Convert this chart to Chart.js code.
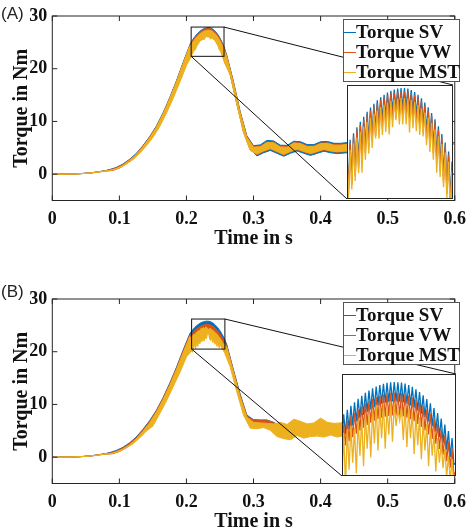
<!DOCTYPE html>
<html><head><meta charset="utf-8">
<script src="https://cdn.jsdelivr.net/npm/chart.js@4.4.1/dist/chart.umd.min.js"></script>
<style>
html,body{margin:0;padding:0;background:#fff;overflow:hidden}
body{width:474px;height:529px;position:relative}
.panel{position:absolute;left:0;width:474px;height:262px}
.tag{position:absolute;left:1px;font:17px "Liberation Sans",Arial,sans-serif;color:#222;line-height:17px}
.inset{position:absolute;border:1px solid #262626;background:#fff;box-sizing:border-box}
.inset canvas{display:block}
.legend{position:absolute;border:1px solid #555;background:#fff;box-sizing:border-box;font:bold 19px "Liberation Serif","Times New Roman",serif;color:#111}
.legend .row{position:absolute;left:0;height:20px;line-height:20px;white-space:nowrap}
.legend .sw{position:absolute;left:0;top:10px;width:12px;height:1px}
.legend .tx{position:absolute;left:12px;top:0}
#err{position:absolute;left:0;top:0;color:red;font:12px sans-serif}
</style></head>
<body>
<div id="panelA" class="panel" style="top:0"><canvas id="mainA" width="474" height="262"></canvas></div>
<div id="panelB" class="panel" style="top:283px"><canvas id="mainB" width="474" height="262"></canvas></div>
<div class="tag" style="top:5px">(A)</div>
<div class="tag" style="top:283px">(B)</div>
<div id="err"></div>
<script>
// ---------- data ----------
const seriesNames = ['Torque SV', 'Torque VW', 'Torque MST'];
const seriesColors = ['#0072BD', '#D95319', '#EDB120'];
const xTicks = [0, 0.1, 0.2, 0.3, 0.4, 0.5, 0.6];
const yTicks = [0, 10, 20, 30];
const xRange = [0, 0.6];
const yRange = [-5, 30];
// time grid segments: [start, step, count]; within a segment samples alternate ripple top / ripple dip
const timeSegments = [[0, 0.01, 9], [0.085, 0.005, 25], [0.2064, 0.0008, 64], [0.26, 0.005, 69]];

// (A)
const svA = [0,0,0,0.02,0.08,0.15,0.27,0.45,0.68,
 0.85,0.9,1.25,1.35,1.9,2.1,2.8,3.0,3.9,4.2,5.4,5.7,7.1,7.4,9.1,9.6,11.6,12.2,14.5,15.1,17.7,18.3,21.2,21.7,24.5,
 24.9,22.75,25.24,23.24,25.56,23.7,25.85,24.13,26.13,24.52,26.38,24.87,26.62,25.2,26.83,25.51,27.02,25.78,27.19,26.01,27.34,26.22,27.47,26.39,27.58,26.53,27.66,26.65,27.73,26.73,27.77,26.78,27.8,26.8,27.8,26.79,27.77,26.72,27.7,26.6,27.6,26.43,27.46,26.23,27.29,25.97,27.08,25.67,26.84,25.32,26.56,24.91,26.25,24.46,25.9,23.97,25.52,23.43,25.1,22.83,24.65,22.19,24.16,21.5,
 22.6,19.1,17.6,13.5,11.9,8.2,7.3,4.9,5.4,3.45,5.55,4.05,6.4,4.5,6.3,3.95,5.5,3.4,5.45,3.95,6.25,4.4,6.15,3.95,5.6,3.55,5.6,3.95,6.15,4.35,6.2,4.05,5.85,3.9,5.85,4.0,6.0,4.1,6.05,4.05,5.95,4.0,5.9,4.05,6.0,4.1,6.05,4.05,5.95,4.0,5.95,4.1,6.05,4.1,6.0,4.0,5.95,4.05,6.05,4.1,6.0,4.05,5.95,4.0,6.0,4.1,6.05,4.1,6.0];
const vwA = [0,0,0,0.02,0.08,0.15,0.26,0.44,0.66,
 0.8,0.7,1.18,1.15,1.82,1.9,2.7,2.8,3.8,4.0,5.3,5.5,7.0,7.2,8.98,9.4,11.48,12.0,14.38,14.9,17.56,18.1,21.05,21.5,24.35,
 24.75,22.54,25.09,23.01,25.41,23.44,25.7,23.85,25.98,24.22,26.23,24.56,26.47,24.87,26.68,25.17,26.87,25.42,27.04,25.65,27.19,25.85,27.32,26.01,27.43,26.15,27.51,26.26,27.58,26.33,27.62,26.38,27.65,26.4,27.65,26.39,27.62,26.32,27.55,26.21,27.45,26.05,27.31,25.85,27.14,25.6,26.93,25.31,26.69,24.97,26.41,24.58,26.1,24.15,25.75,23.68,25.37,23.16,24.95,22.58,24.5,21.97,24.01,21.3,
 22.5,19.0,17.5,13.4,11.8,8.0,7.2,4.6,5.2,3.7,5.3,4.3,6.1,4.75,6.05,4.2,5.25,3.65,5.2,4.2,6.0,4.65,5.9,4.2,5.35,3.8,5.35,4.2,5.9,4.6,5.95,4.3,5.6,4.15,5.6,4.25,5.75,4.3,5.8,4.3,5.7,4.25,5.65,4.3,5.75,4.35,5.8,4.3,5.7,4.25,5.7,4.35,5.8,4.35,5.75,4.25,5.7,4.3,5.8,4.35,5.75,4.3,5.7,4.25,5.75,4.35,5.8,4.35,5.75];
const mstA = [0,0,0,0.02,0.07,0.14,0.25,0.42,0.63,
 0.65,0.8,1.05,1.2,1.68,1.9,2.6,2.75,3.7,3.9,5.2,5.35,6.9,6.95,8.88,9.0,11.4,11.5,14.3,14.3,17.5,17.4,21.0,20.6,24.3,
 24.4,22.33,24.74,22.77,25.06,23.19,25.35,23.58,25.63,23.6,25.88,24.25,26.12,24.55,26.33,24.83,26.52,25.3,26.69,25.29,26.84,25.47,26.97,25.62,27.08,25.5,27.16,25.86,27.23,26.2,27.27,25.99,27.3,26.0,27.3,25.99,27.27,25.6,27.2,25.81,27.1,25.66,26.96,25.47,26.79,25.4,26.58,24.96,26.34,24.63,26.06,24.25,25.75,23.6,25.4,23.39,25.02,22.88,24.6,22.33,24.15,21.74,23.66,21.1,
 22.3,18.9,17.3,13.3,11.6,7.9,7.0,4.5,5.1,3.8,5.2,4.4,6.0,4.85,5.95,4.3,5.15,3.75,5.1,4.3,5.9,4.75,5.8,4.3,5.25,3.9,5.25,4.3,5.8,4.7,5.85,4.4,5.5,4.25,5.5,4.35,5.65,4.4,5.6,4.45,5.55,4.4,5.6,4.4,5.65,4.45,5.6,4.4,5.55,4.35,5.6,4.45,5.65,4.4,5.6,4.35,5.55,4.4,5.6,4.45,5.65,4.4,5.55,4.35,5.6,4.45,5.65,4.45,5.6];

// (B)
const svB = [0,0,0,0.02,0.08,0.15,0.27,0.45,0.68,
 0.85,0.9,1.25,1.35,1.85,2.05,2.7,2.95,3.8,4.2,5.25,5.7,6.9,7.4,8.85,9.55,11.25,12.1,14.0,14.9,17.0,17.9,20.3,21.2,23.4,
 23.7,22.54,23.96,22.83,24.21,23.09,24.44,23.33,24.65,23.55,24.84,23.75,25.02,23.93,25.18,24.1,25.32,24.24,25.44,24.36,25.54,24.47,25.63,24.56,25.7,24.62,25.75,24.67,25.78,24.69,25.8,24.7,25.79,24.68,25.77,24.64,25.71,24.56,25.63,24.47,25.52,24.34,25.39,24.18,25.23,24.0,25.04,23.79,24.83,23.55,24.59,23.28,24.32,22.98,24.03,22.67,23.72,22.32,23.37,21.94,23.0,21.53,22.61,21.1,
 21.4,18.3,16.6,13.3,12.0,8.9,8.0,6.4,7.1,6.2,7.05,6.3,7.05,6.1,6.6,5.4,5.9,4.95,5.8,5.15,6.1,5.35,6.1,5.15,5.85,5.0,5.85,5.15,6.05,5.25,6.0,5.1,5.85,5.0,5.85,5.05,5.9,5.05,5.85,5.1,5.9,5.05,5.85,5.0,5.9,5.1,5.95,5.05,5.85,5.0,5.9,5.1,5.95,5.05,5.9,5.0,5.85,5.05,5.9,5.1,5.95,5.05,5.85,5.0,5.9,5.1,5.9,5.05,5.85];
const vwB = [0,0,0,0.02,0.08,0.15,0.26,0.44,0.66,
 0.75,0.65,1.12,1.05,1.72,1.75,2.57,2.65,3.67,3.9,5.12,5.4,6.77,7.1,8.72,9.25,11.12,11.8,13.87,14.6,16.85,17.6,20.15,20.9,23.25,
 23.1,21.93,23.36,22.19,23.61,22.43,23.84,22.65,24.05,22.85,24.24,23.03,24.42,23.2,24.58,23.35,24.72,23.48,24.84,23.59,24.94,23.69,25.03,23.77,25.1,23.83,25.15,23.87,25.18,23.89,25.2,23.9,25.19,23.88,25.17,23.84,25.11,23.77,25.03,23.68,24.92,23.56,24.79,23.41,24.63,23.24,24.44,23.04,24.23,22.81,23.99,22.56,23.72,22.28,23.43,21.98,23.12,21.65,22.77,21.29,22.4,20.91,22.01,20.5,
 21.2,18.0,16.4,13.0,11.8,8.6,7.8,6.2,7.05,5.95,7.0,6.05,7.0,5.85,6.55,5.15,5.85,4.7,5.75,4.9,6.05,5.1,6.05,4.9,5.8,4.75,5.8,4.9,6.0,5.0,5.95,4.85,5.8,4.8,5.8,4.85,5.85,4.85,5.8,4.9,5.85,4.85,5.8,4.8,5.85,4.9,5.9,4.85,5.8,4.8,5.85,4.9,5.9,4.85,5.85,4.8,5.8,4.85,5.85,4.9,5.9,4.85,5.8,4.8,5.85,4.9,5.85,4.85,5.8];
const mstB = [0,0,0,0.02,0.07,0.14,0.25,0.42,0.63,
 0.6,0.75,1.0,1.1,1.55,1.8,2.35,2.5,3.45,3.6,4.9,4.9,6.5,5.9,8.5,8.2,10.9,10.6,13.6,13.3,16.6,16.0,19.8,19.0,22.9,
 22.6,20.1,22.9,19.9,23.1,20.8,23.3,21.2,23.2,20.6,23.6,21.6,23.7,21.0,24.0,22.0,23.9,21.5,24.2,22.3,24.5,21.9,24.4,22.6,24.6,22.0,24.3,22.8,24.7,22.4,24.6,23.3,24.2,23.6,24.3,22.5,24.4,22.1,24.3,22.6,24.1,21.7,24.0,22.2,23.8,21.4,23.6,21.9,23.4,21.0,23.2,21.6,22.9,20.7,22.6,21.2,22.3,20.9,22.0,20.4,21.6,20.2,21.4,19.8,
 20.9,17.2,16.2,12.4,11.5,8.0,7.6,5.5,6.6,5.4,6.5,5.6,6.4,5.1,6.3,3.9,6.6,3.5,6.2,3.3,7.2,4.1,6.8,3.6,6.3,3.9,6.5,4.0,7.4,3.8,6.6,4.2,6.4,3.8,6.5,4.1,6.8,3.9,6.4,4.3,6.9,3.7,6.5,4.2,6.3,3.9,7.0,4.4,6.6,3.8,6.4,4.1,6.7,3.9,6.5,4.3,6.2,3.7,6.8,4.0,6.4,4.2,6.6,3.9,6.3,4.1,6.5,4.2,6.2];

// zoom windows (data coordinates)
const zoomA = {x0: 0.207, x1: 0.256, y0: 22.35, y1: 27.9};
const zoomB = {x0: 0.2077, x1: 0.2573, y0: 20.5, y1: 26.2};

// ---------- layout (panel pixel coordinates) ----------
const FONT = '"Liberation Serif","Times New Roman",serif';
const insetBoxA = {left: 347, top: 85, width: 106, height: 114};
const insetBoxB = {left: 342, top: 91, width: 114, height: 102};
const legendBox = {left: 343, top: 19, width: 117, height: 63};

const time = [], isTop = [];
for (const [t0, dt, n] of timeSegments) for (let i = 0; i < n; i++) { time.push(+(t0 + i * dt).toFixed(4)); isTop.push(i % 2 === 0); }

function pts(arr) { return arr.map((v, i) => ({x: time[i], y: v})); }
// inset: full ripple trace
function lineSets(list, width) {
  return list.map((arr, i) => ({
    label: seriesNames[i], data: pts(arr), borderColor: seriesColors[i],
    borderWidth: width, pointRadius: 0, tension: 0, fill: false, order: list.length - i
  }));
}
// main plot: ripple band between ripple tops and ripple dips
function bandSets(list) {
  const out = [];
  list.forEach((arr, i) => {
    const p = pts(arr);
    const ord = 2 * (list.length - i);
    out.push({label: seriesNames[i], data: p.filter((_, k) => isTop[k]), borderColor: seriesColors[i],
      borderWidth: 1, pointRadius: 0, tension: 0, fill: false, order: ord});
    out.push({label: seriesNames[i] + ' dips', data: p.filter((_, k) => !isTop[k]), borderColor: seriesColors[i],
      backgroundColor: seriesColors[i], borderWidth: 1, pointRadius: 0, tension: 0,
      fill: {target: 2 * i}, order: ord - 1});
  });
  return out;
}

const framePlugin = {
  id: 'frame',
  afterDatasetsDraw(chart, args, o) {
    const {ctx, chartArea: a, scales: {x, y}} = chart;
    ctx.save();
    ctx.strokeStyle = '#262626'; ctx.lineWidth = 1;
    ctx.strokeRect(a.left, a.top, a.right - a.left, a.bottom - a.top);
    ctx.beginPath();
    for (const v of xTicks) {
      const p = x.getPixelForValue(v);
      ctx.moveTo(p, a.bottom); ctx.lineTo(p, a.bottom - 5);
      ctx.moveTo(p, a.top); ctx.lineTo(p, a.top + 5);
    }
    for (const v of yTicks) {
      const p = y.getPixelForValue(v);
      ctx.moveTo(a.left, p); ctx.lineTo(a.left + 5, p);
      ctx.moveTo(a.right, p); ctx.lineTo(a.right - 5, p);
    }
    ctx.stroke();
    const z = o.zoom, b = o.inset;
    const zx0 = x.getPixelForValue(z.x0), zx1 = x.getPixelForValue(z.x1);
    const zy0 = y.getPixelForValue(z.y0), zy1 = y.getPixelForValue(z.y1);
    ctx.strokeStyle = '#111';
    ctx.strokeRect(zx0, zy1, zx1 - zx0, zy0 - zy1);
    ctx.beginPath();
    ctx.moveTo(zx1, zy1); ctx.lineTo(b.left + b.width, b.top);
    ctx.moveTo(zx0, zy0); ctx.lineTo(b.left, b.top + b.height);
    ctx.stroke();
    ctx.restore();
  }
};

function mainChart(canvas, list, zoom, inset) {
  return new Chart(canvas, {
    type: 'line',
    data: {datasets: bandSets(list)},
    plugins: [framePlugin],
    options: {
      responsive: false, animation: false, events: [],
      layout: {padding: {left: 0, right: 11.3, top: 16, bottom: 0}},
      plugins: {legend: {display: false}, tooltip: {enabled: false}, frame: {zoom, inset},
                filler: {drawTime: 'beforeDatasetDraw', propagate: false}},
      scales: {
        x: {
          type: 'linear', min: xRange[0], max: xRange[1],
          afterBuildTicks: s => { s.ticks = xTicks.map(v => ({value: v})); },
          afterFit: s => { s.height = 61.5; },
          grid: {display: false, drawTicks: false}, border: {display: false},
          ticks: {padding: 8, color: '#111', autoSkip: false, maxRotation: 0,
                  font: {family: FONT, size: 18, weight: 'bold'}, callback: v => String(v)},
          title: {display: true, text: 'Time in s', color: '#111',
                  font: {family: FONT, size: 20, weight: 'bold'}, padding: {top: 0, bottom: 11.5}}
        },
        y: {
          type: 'linear', min: yRange[0], max: yRange[1],
          afterBuildTicks: s => { s.ticks = yTicks.map(v => ({value: v})); },
          afterFit: s => { s.width = 52.3; },
          grid: {display: false, drawTicks: false}, border: {display: false},
          ticks: {padding: 5, color: '#111', font: {family: FONT, size: 18, weight: 'bold'}, callback: v => String(v)},
          title: {display: true, text: 'Torque in Nm', color: '#111',
                  font: {family: FONT, size: 20, weight: 'bold'}, padding: {top: 9.5, bottom: 0}}
        }
      }
    }
  });
}

function insetChart(panel, list, zoom, box) {
  const d = document.createElement('div');
  d.className = 'inset';
  Object.assign(d.style, {left: box.left + 'px', top: box.top + 'px', width: box.width + 'px', height: box.height + 'px'});
  const c = document.createElement('canvas');
  c.width = box.width - 2; c.height = box.height - 2;
  d.appendChild(c); panel.appendChild(d);
  new Chart(c, {
    type: 'line',
    data: {datasets: lineSets(list, 1.3)},
    options: {
      responsive: false, animation: false, events: [],
      layout: {padding: 0},
      plugins: {legend: {display: false}, tooltip: {enabled: false}},
      scales: {
        x: {type: 'linear', display: false, min: zoom.x0, max: zoom.x1},
        y: {type: 'linear', display: false, min: zoom.y0, max: zoom.y1}
      }
    }
  });
}

function legend(panel) {
  const d = document.createElement('div');
  d.className = 'legend';
  Object.assign(d.style, {left: legendBox.left + 'px', top: legendBox.top + 'px', width: legendBox.width + 'px', height: legendBox.height + 'px'});
  seriesNames.forEach((n, i) => {
    const r = document.createElement('div');
    r.className = 'row'; r.style.top = (1.7 + 20 * i) + 'px';
    const sw = document.createElement('div'); sw.className = 'sw'; sw.style.background = seriesColors[i];
    const tx = document.createElement('span'); tx.className = 'tx'; tx.textContent = n;
    r.appendChild(sw); r.appendChild(tx); d.appendChild(r);
  });
  panel.appendChild(d);
}

const all = [svA, vwA, mstA, svB, vwB, mstB];
const bad = all.map((a, i) => a.length !== time.length ? i + ':' + a.length : null).filter(Boolean);
if (bad.length) document.getElementById('err').textContent = 'len ' + time.length + ' bad ' + bad.join(',');

mainChart(document.getElementById('mainA'), [svA, vwA, mstA], zoomA, insetBoxA);
mainChart(document.getElementById('mainB'), [svB, vwB, mstB], zoomB, insetBoxB);
insetChart(document.getElementById('panelA'), [svA, vwA, mstA], zoomA, insetBoxA);
insetChart(document.getElementById('panelB'), [svB, vwB, mstB], zoomB, insetBoxB);
legend(document.getElementById('panelA'));
legend(document.getElementById('panelB'));
</script>
</body></html>
